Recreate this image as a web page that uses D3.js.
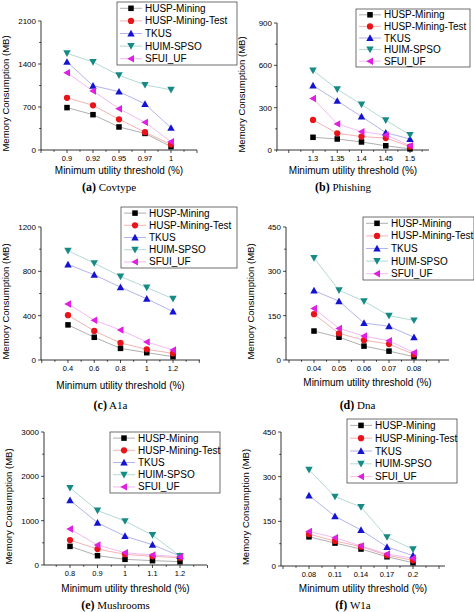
<!DOCTYPE html>
<html><head><meta charset="utf-8">
<script src="https://cdn.jsdelivr.net/npm/d3@7"></script>
<style>body{margin:0;background:#fff}</style></head>
<body><svg id="c" width="474" height="612"></svg>
<script>
const seriesNames = ["HUSP-Mining","HUSP-Mining-Test","TKUS","HUIM-SPSO","SFUI_UF"];
const colors = ["#000000","#e8141a","#1414d0","#168a84","#e020e0"];
const lineColors = ["#9a9a9a","#f0a0a0","#a0a0e8","#a0d0cc","#f0a8f0"];
const symbols = [d3.symbolSquare, d3.symbolCircle, "up", "down", "left"];

const xTicksA = ["0.9","0.92","0.95","0.97","1"];
const xTicksB = ["1.3","1.35","1.4","1.45","1.5"];
const xTicksC = ["0.4","0.6","0.8","1","1.2"];
const xTicksD = ["0.04","0.05","0.06","0.07","0.08"];
const xTicksE = ["0.8","0.9","1","1.1","1.2"];
const xTicksF = ["0.08","0.11","0.14","0.17","0.2"];

const dataA = [[690,575,375,270,55],[850,727,500,290,90],[1435,1047,950,750,360],[1574,1433,1216,1060,980],[1259,960,673,450,135]];
const dataB = [[90,78,57,30,8],[213,118,95,85,24],[457,348,237,123,78],[564,431,322,211,107],[365,185,130,107,31]];
const dataC = [[317,205,105,66,30],[404,262,154,96,60],[862,769,657,552,437],[986,874,754,654,552],[506,359,271,163,90]];
const dataD = [[98,77,47,30,11],[155,90,67,54,19],[235,199,125,114,77],[345,236,199,150,134],[174,107,81,65,25]];
const dataE = [[420,210,128,98,75],[562,360,240,195,165],[1462,952,652,457,202],[1740,1230,990,675,202],[810,450,277,225,187]];
const dataF = [[98,77,57,31,11],[107,84,65,36,19],[237,167,121,64,35],[323,233,198,97,56],[116,95,67,40,26]];

const yTicksA=[0,700,1400,2100], yTicksB=[0,300,600,900], yTicksC=[0,400,800,1200],
      yTicksD=[0,150,300,450], yTicksE=[0,1000,2000,3000], yTicksF=[0,150,300,450];

const panels = [
 {tag:"(a)",name:"Covtype",xt:xTicksA,data:dataA,yt:yTicksA,ax0:41,ax1:197,p0:67,p4:171,yTop:21,yBot:150,xl:174,cap:191,lg:[117,2,237,65]},
 {tag:"(b)",name:"Phishing",xt:xTicksB,data:dataB,yt:yTicksB,ax0:277,ax1:429,p0:313,p4:410,yTop:23,yBot:150,xl:174,cap:191,lg:[356,9,470,67]},
 {tag:"(c)",name:"A1a",xt:xTicksC,data:dataC,yt:yTicksC,ax0:41,ax1:200,p0:68,p4:173,yTop:227,yBot:360,xl:389,cap:409,lg:[121,207,237,268]},
 {tag:"(d)",name:"Dna",xt:xTicksD,data:dataD,yt:yTicksD,ax0:286,ax1:449,p0:314,p4:414,yTop:227,yBot:360,xl:386,cap:409,lg:[363,217,474,280]},
 {tag:"(e)",name:"Mushrooms",xt:xTicksE,data:dataE,yt:yTicksE,ax0:44,ax1:207,p0:70,p4:180,yTop:432,yBot:565,xl:592,cap:609,lg:[110,432,220,493]},
 {tag:"(f)",name:"W1a",xt:xTicksF,data:dataF,yt:yTicksF,ax0:281,ax1:445,p0:309,p4:413,yTop:432,yBot:566,xl:592,cap:609,lg:[347,419,457,483]}
];

const svg = d3.select("#c");
const F = "Liberation Sans, Arial, sans-serif";

function marker(g, i, x, y, s){
  const t = symbols[i];
  if (typeof t !== "string") {
    g.append("path").attr("d", d3.symbol().type(t).size(s*s*0.85)()).attr("transform",`translate(${x},${y})`).attr("fill",colors[i]);
  } else {
    const r = s*0.62;
    let pts;
    if (t==="up") pts=[[0,-r],[r,r*0.8],[-r,r*0.8]];
    else if (t==="down") pts=[[0,r],[r,-r*0.8],[-r,-r*0.8]];
    else pts=[[-r,0],[r*0.8,-r],[r*0.8,r]];
    g.append("path").attr("d","M"+pts.map(p=>[x+p[0],y+p[1]].join(",")).join("L")+"Z").attr("fill",colors[i]);
  }
}

panels.forEach(p=>{
  const g = svg.append("g");
  const x = d3.scaleLinear().domain([0,4]).range([p.p0,p.p4]);
  const ymax = p.yt[p.yt.length-1];
  const y = d3.scaleLinear().domain([0,ymax]).range([p.yBot,p.yTop]);
  g.append("line").attr("x1",p.ax0).attr("x2",p.ax0).attr("y1",p.yBot).attr("y2",p.yTop).attr("stroke","#000").attr("stroke-width",0.8);
  const step = p.yt[1];
  for (let v=0; v<=ymax+1e-9; v+=step/2){
    const major = Math.abs(v/step-Math.round(v/step))<1e-6;
    g.append("line").attr("x1",p.ax0-(major?3:1.8)).attr("x2",p.ax0).attr("y1",y(v)).attr("y2",y(v)).attr("stroke","#000").attr("stroke-width",0.7);
  }
  p.yt.forEach(v=>g.append("text").attr("x",p.ax0-5).attr("y",y(v)+3).attr("text-anchor","end").attr("font-family",F).attr("font-size",8).text(v));
  g.append("line").attr("x1",p.ax0).attr("x2",p.ax1).attr("y1",p.yBot).attr("y2",p.yBot).attr("stroke","#000").attr("stroke-width",0.8);
  for (let k=-4;k<=12;k++){
    const xx = x(k/2);
    if (xx < p.ax0-0.5 || xx > p.ax1+0.5) continue;
    const major = k%2===0;
    g.append("line").attr("x1",xx).attr("x2",xx).attr("y1",p.yBot).attr("y2",p.yBot+(major?3:1.8)).attr("stroke","#000").attr("stroke-width",0.7);
  }
  p.xt.forEach((t,i)=>g.append("text").attr("x",x(i)).attr("y",p.yBot+11).attr("text-anchor","middle").attr("font-family",F).attr("font-size",7.5).text(t));
  g.append("text").attr("x",(p.ax0+p.ax1)/2).attr("y",p.xl).attr("text-anchor","middle").attr("font-family",F).attr("font-size",10).text("Minimum utility threshold (%)");
  const cy=(p.yTop+p.yBot)/2+8;
  g.append("text").attr("transform",`translate(${p.ax0-32},${cy}) rotate(-90)`).attr("text-anchor","middle").attr("font-family",F).attr("font-size",9.5).text("Memory Consumption (MB)");
  const cap = g.append("text").attr("x",(p.ax0+p.ax1)/2-10).attr("y",p.cap).attr("text-anchor","middle").attr("font-family","Liberation Serif, Times New Roman, serif").attr("font-size",11);
  cap.append("tspan").attr("font-weight","bold").attr("font-size",12).text(p.tag);
  cap.append("tspan").text(" "+p.name);
  p.data.forEach((vals,si)=>{
    g.append("path").attr("d",d3.line().x((d,i)=>x(i)).y(d=>y(d))(vals)).attr("fill","none").attr("stroke",lineColors[si]).attr("stroke-width",0.8);
  });
  p.data.forEach((vals,si)=>vals.forEach((v,i)=>marker(g,si,x(i),y(v),6)));
  const [lx0,ly0,lx1,ly1]=p.lg;
  g.append("rect").attr("x",lx0).attr("y",ly0).attr("width",lx1-lx0).attr("height",ly1-ly0).attr("fill","#fff").attr("stroke","#333").attr("stroke-width",0.7);
  const rh=(ly1-ly0)/5;
  seriesNames.forEach((n,si)=>{
    const yy=ly0+rh*(si+0.5);
    g.append("line").attr("x1",lx0+3).attr("x2",lx0+25).attr("y1",yy).attr("y2",yy).attr("stroke",lineColors[si]).attr("stroke-width",0.8);
    marker(g,si,lx0+14,yy,6);
    g.append("text").attr("x",lx0+28).attr("y",yy+3.5).attr("font-family",F).attr("font-size",10).text(n);
  });
});
</script></body></html>
